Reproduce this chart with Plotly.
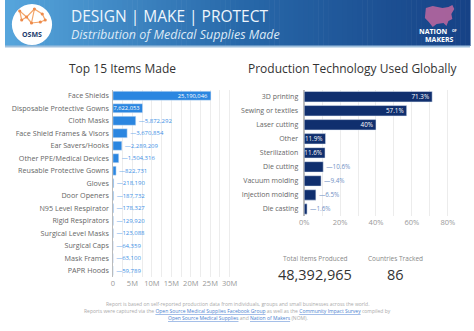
import plotly.graph_objects as go

W, H = 474, 331

items = ["Face Shields", "Disposable Protective Gowns", "Cloth Masks",
         "Face Shield Frames & Visors", "Ear Savers/Hooks", "Other PPE/Medical Devices",
         "Reusable Protective Gowns", "Gloves", "Door Openers", "N95 Level Respirator",
         "Rigid Respirators", "Surgical Level Masks", "Surgical Caps", "Mask Frames",
         "PAPR Hoods"]
item_counts = [25190046, 7622053, 5872292, 3670854, 2289209, 1504316, 822731,
               218190, 187732, 178327, 129920, 123088, 64359, 63100, 59789]
left_tickvals = [0, 5e6, 10e6, 15e6, 20e6, 25e6, 30e6]
left_ticktext = ["0", "5M", "10M", "15M", "20M", "25M", "30M"]

techs = ["3D printing", "Sewing or textiles", "Laser cutting", "Other", "Sterilization",
         "Die cutting", "Vacuum molding", "Injection molding", "Die casting"]
tech_pct = [71.3, 57.1, 40, 11.9, 11.6, 10.6, 9.4, 6.5, 1.6]

total_items = "48,392,965"
countries = "86"

FONT = "Open Sans"


def px(x):
    return x / W


def py(y):
    return 1 - y / H


left_pos = ["inside" if v >= 7e6 else "outside" for v in item_counts]
left_text = [f"{v:,}" if v >= 7e6 else f"—{v:,}" for v in item_counts]
right_pos = ["inside" if v >= 11 else "outside" for v in tech_pct]
right_text = [f"{v:g}%" if v >= 11 else f"—{v:g}%" for v in tech_pct]

fig = go.Figure()
fig.add_trace(go.Bar(
    y=items, x=item_counts, orientation="h", marker_color="#2b86e0",
    text=left_text, textposition=left_pos, insidetextanchor="end",
    constraintext="none", cliponaxis=False,
    insidetextfont=dict(color="white", size=5.8, family=FONT),
    outsidetextfont=dict(color="#3d8fe6", size=6, family=FONT),
    xaxis="x", yaxis="y", showlegend=False, hoverinfo="skip"))
fig.add_trace(go.Bar(
    y=techs, x=tech_pct, orientation="h", marker_color="#102f6e",
    text=right_text, textposition=right_pos, insidetextanchor="end",
    constraintext="none", cliponaxis=False,
    insidetextfont=dict(color="white", size=6.3, family=FONT),
    outsidetextfont=dict(color="#6f8fc4", size=6.3, family=FONT),
    xaxis="x2", yaxis="y2", showlegend=False, hoverinfo="skip"))

grid = "#ececec"
fig.update_layout(
    width=W, height=H, margin=dict(l=0, r=0, t=0, b=0),
    paper_bgcolor="white", plot_bgcolor="white",
    font=dict(family=FONT, color="#555"),
    bargap=0.28,
    xaxis=dict(domain=[px(110), px(233)], range=[0, 31e6], tickvals=left_tickvals,
               ticktext=left_ticktext, showgrid=True, gridcolor=grid, gridwidth=1,
               minor=dict(dtick=2.5e6, showgrid=True, gridcolor=grid),
               zeroline=True, zerolinecolor="#bbbbbb", zerolinewidth=1,
               tickfont=dict(size=7.5, color="#999"), ticks="", fixedrange=True),
    yaxis=dict(domain=[py(277), py(89.5)], autorange="reversed",
               tickfont=dict(size=7.2, color="#666"), ticks="",
               ticklabelstandoff=3, showgrid=False, fixedrange=True),
    xaxis2=dict(domain=[px(305), px(455)], range=[0, 82], dtick=20, ticksuffix="%",
                showgrid=True, gridcolor=grid,
                minor=dict(dtick=10, showgrid=True, gridcolor=grid),
                zeroline=True, zerolinecolor="#bbbbbb",
                tickfont=dict(size=7.5, color="#999"), anchor="y2", fixedrange=True),
    yaxis2=dict(domain=[py(216), py(89.7)], autorange="reversed", anchor="x2",
                tickfont=dict(size=7, color="#666"), ticklabelstandoff=5,
                showgrid=False, fixedrange=True),
)
fig.update_traces(selector=dict(xaxis="x2"), width=0.74)

shapes = []
n = 95
c0 = (86, 165, 220)
c1 = (40, 105, 170)
c2 = (22, 66, 134)
for i in range(n):
    t = i / (n - 1)
    if t < 0.5:
        a, b, u = c0, c1, t / 0.5
    else:
        a, b, u = c1, c2, (t - 0.5) / 0.5
    col = "rgb(%d,%d,%d)" % tuple(round(a[k] + (b[k] - a[k]) * u) for k in range(3))
    shapes.append(dict(type="rect", xref="paper", yref="paper",
                       x0=px(i * W / n), x1=px((i + 1) * W / n + 0.6),
                       y0=py(46), y1=py(0), fillcolor=col, line=dict(width=0),
                       layer="below"))
shapes.append(dict(type="rect", xref="paper", yref="paper", x0=0, x1=1,
                   y0=py(47.5), y1=py(45.5), fillcolor="#9fc0dd",
                   line=dict(width=0)))
shapes.append(dict(type="circle", xref="paper", yref="paper",
                   x0=px(7), x1=px(48), y0=py(45), y1=py(4),
                   fillcolor="white", line=dict(width=0)))
net = [(15, 11, 22, 17), (22, 17, 30, 9), (30, 9, 38, 14), (38, 14, 41, 20),
       (22, 17, 27, 23), (27, 23, 36, 22), (36, 22, 41, 20), (17, 20, 22, 17),
       (30, 9, 27, 23), (15, 11, 17, 20)]
for x0, y0, x1, y1 in net:
    shapes.append(dict(type="line", xref="paper", yref="paper",
                       x0=px(x0), y0=py(y0), x1=px(x1), y1=py(y1),
                       line=dict(color="#f3a66a", width=1.2)))
for (x, y) in [(15, 11), (22, 17), (30, 9), (38, 14), (41, 20), (27, 23), (36, 22), (17, 20)]:
    shapes.append(dict(type="circle", xref="paper", yref="paper",
                       x0=px(x - 1.6), x1=px(x + 1.6), y0=py(y + 1.6), y1=py(y - 1.6),
                       fillcolor="#ee8a4a", line=dict(width=0)))
us = [(429, 8), (436, 6), (446, 8), (452, 7), (456, 5), (458, 9), (455, 14), (456, 19),
      (452, 21), (450, 26), (447, 23), (440, 24), (436, 27), (432, 22), (428, 18)]
path = "M " + " L ".join(f"{px(x)},{py(y)}" for x, y in us) + " Z"
shapes.append(dict(type="path", xref="paper", yref="paper", path=path,
                   fillcolor="#c0679f", opacity=0.85, line=dict(width=0)))

annotations = []


def txt(x, y, s, size, color="#555", xanchor="center", italic=False, bold=False,
        family=FONT):
    if bold:
        s = f"<b>{s}</b>"
    if italic:
        s = f"<i>{s}</i>"
    annotations.append(dict(x=px(x), y=py(y), xref="paper", yref="paper", text=s,
                            showarrow=False, xanchor=xanchor, yanchor="middle",
                            font=dict(size=size, color=color, family=family)))


txt(65, 15.5, "DESIGN | MAKE | PROTECT", 15.5, "#eef5fc", xanchor="left")
txt(65, 34.5, "Distribution of Medical Supplies Made", 12.5, "#dde9f6", xanchor="left",
    italic=True)
txt(27.5, 34, "OSMS", 7, "#1d3c6e", bold=True)
txt(453, 31, "NATION", 7, "white", bold=True, xanchor="right")
txt(453.5, 30.5, "OF", 3.5, "white", bold=True, xanchor="left")
txt(443, 39, "MAKERS", 7, "white", bold=True)

txt(120, 68, "Top 15 Items Made", 12, "#333")
txt(354, 68, "Production Technology Used Globally", 12, "#333")

txt(316, 258.5, "Total Items Produced", 6.5, "#888")
txt(316, 274, total_items, 14.5, "#333")
txt(398, 258.5, "Countries Tracked", 6.5, "#888")
txt(398, 274, countries, 14.5, "#333")

link = "#4a7fd0"
txt(237, 304, "Report is based on self-reported production data from individuals, groups "
    "and small businesses across the world.", 5, "#aaa")
txt(237, 311, "Reports were captured via the "
    f"<span style='color:{link}'><u>Open Source Medical Supplies Facebook Group</u></span>"
    " as well as the "
    f"<span style='color:{link}'><u>Community Impact Survey</u></span> compiled by",
    5, "#aaa")
txt(237, 318, f"<span style='color:{link}'><u>Open Source Medical Supplies</u></span> and "
    f"<span style='color:{link}'><u>Nation of Makers</u></span> (NOM).", 5, "#aaa")

fig.update_layout(shapes=shapes, annotations=annotations)
fig.write_html("out.html")
